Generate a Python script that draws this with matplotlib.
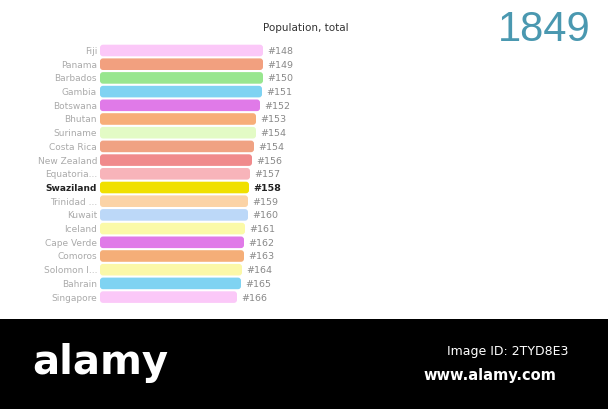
import matplotlib.pyplot as plt
from matplotlib.patches import FancyBboxPatch, Rectangle

countries = ['Fiji', 'Panama', 'Barbados', 'Gambia', 'Botswana', 'Bhutan', 'Suriname',
             'Costa Rica', 'New Zealand', 'Equatoria...', 'Swaziland', 'Trinidad ...',
             'Kuwait', 'Iceland', 'Cape Verde', 'Comoros', 'Solomon I...', 'Bahrain', 'Singapore']
ranks = ['#148', '#149', '#150', '#151', '#152', '#153', '#154', '#154', '#156', '#157',
         '#158', '#159', '#160', '#161', '#162', '#163', '#164', '#165', '#166']
values = [163, 163, 163, 162, 160, 156, 156, 154, 152, 150, 149, 148, 148, 145, 144, 144, 142, 141, 137]
colors = ['#fbc8f8', '#f2a07f', '#98e68f', '#7fd3f2', '#e07ae8', '#f7ae78', '#e3fbc5',
          '#f0a283', '#f08a8c', '#f8b4ba', '#f0e000', '#fbd3a6', '#bcd8f8', '#fbfaa8',
          '#e07ae8', '#f5ae78', '#fbf8a8', '#7fd3f2', '#fbc8f8']

W, H = 608, 410
fig = plt.figure(figsize=(6.08, 4.10), dpi=100)
ax = fig.add_axes([0, 0, 1, 1])
ax.set_xlim(0, W)
ax.set_ylim(H, 0)
ax.axis('off')

y0, dy = 51.5, 13.7
for i, (c, r, v, col) in enumerate(zip(countries, ranks, values, colors)):
    y = y0 + i * dy
    ax.add_patch(FancyBboxPatch((100, y - 5.8), v, 11.6, boxstyle='round,pad=0,rounding_size=3',
                                fc=col, ec='none'))
    hl = c == 'Swaziland'
    ax.text(97, y, c, ha='right', va='center', fontsize=6.5,
            color='#222222' if hl else '#aaaaaa', fontweight='bold' if hl else 'normal')
    ax.text(100 + v + 4, y, r, ha='left', va='center', fontsize=6.8,
            color='#222222' if hl else '#888888', fontweight='bold' if hl else 'normal')

ax.text(306, 28, 'Population, total', ha='center', va='center', fontsize=7.5, color='#333333')
ax.text(544, 30, '1849', ha='center', va='center', fontsize=30, color='#4a98b0',
        family='Liberation Sans')

ax.add_patch(Rectangle((0, 320), W, 90, fc='black', ec='none'))
ax.text(100, 363, 'alamy', ha='center', va='center', fontsize=29, color='white',
        fontweight='bold', family='Liberation Sans Narrow')
ax.text(508, 352, 'Image ID: 2TYD8E3', ha='center', va='center', fontsize=9, color='white')
ax.text(490, 376, 'www.alamy.com', ha='center', va='center', fontsize=10.5, color='white',
        fontweight='bold')

fig.savefig('out.png', dpi=100)
